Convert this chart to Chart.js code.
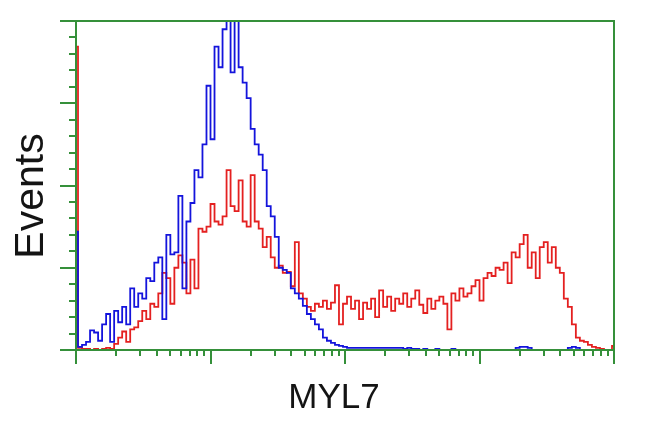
<!DOCTYPE html>
<html>
<head>
<meta charset="utf-8">
<script src="https://cdn.jsdelivr.net/npm/chart.js@4/dist/chart.umd.min.js"></script>
<style>
  html, body { margin: 0; padding: 0; background: #fff; }
</style>
</head>
<body>
<canvas id="chart" width="650" height="432"></canvas>
<script>
// Histogram: 135 log-spaced channels from 10^0 to 10^4
const channelCount = 135;
const xMin = 1;
const xMax = 10000;

// counts per channel
const blueCounts = [
  115, 3, 5, 8, 19, 17, 9, 25, 35, 8,
  38, 27, 42, 25, 60, 42, 55, 50, 70, 67,
  85, 90, 30, 112, 93, 95, 150, 60, 125, 143,
  175, 168, 200, 257, 205, 295, 275, 312, 330, 270,
  330, 275, 260, 245, 215, 200, 190, 175, 140, 130,
  110, 80, 78, 75, 60, 55, 50, 43, 35, 30,
  25, 20, 12, 9, 7, 5, 4, 3, 2, 2,
  2, 2, 2, 2, 2, 2, 2, 2, 2, 2,
  2, 2, 1, 2, 1, 1, 0, 1, 0, 0,
  1, 0, 0, 0, 1, 0, 0, 0, 0, 0,
  0, 0, 0, 0, 0, 0, 0, 0, 0, 0,
  2, 3, 3, 2, 0, 0, 0, 0, 0, 0,
  0, 0, 0, 2, 3, 2, 0, 0, 0, 0,
  0, 0, 0, 0, 0
];

const redCounts = [
  295, 2, 1, 1, 0, 1, 0, 1, 2, 1,
  6, 12, 18, 8, 20, 22, 28, 38, 30, 45,
  42, 55, 75, 70, 45, 80, 92, 85, 55, 88,
  60, 118, 115, 120, 142, 125, 122, 130, 175, 140,
  135, 165, 125, 120, 170, 125, 118, 100, 110, 90,
  80, 82, 75, 76, 62, 105, 55, 50, 42, 38,
  45, 42, 48, 40, 46, 63, 25, 45, 52, 40,
  48, 30, 46, 40, 50, 32, 58, 42, 52, 38,
  50, 45, 55, 42, 50, 58, 44, 36, 50, 40,
  48, 52, 45, 20, 55, 48, 60, 52, 55, 62,
  68, 48, 70, 75, 72, 80, 78, 85, 65, 95,
  90, 103, 112, 80, 95, 70, 100, 105, 85, 100,
  80, 75, 50, 42, 25, 12, 9, 8, 5, 3,
  2, 1, 0, 0, 4
];

const yMax = 320;
const yMajorTicks = [0, 80, 160, 240, 320];
const yMinorStep = 16;
const xMajorTicks = [1, 10, 100, 1000, 10000];

const axisGreen = "#35903a";

function toPoints(counts) {
    return counts.map((c, i) => ({ x: Math.pow(10, 4 * i / (channelCount - 1)), y: c }));
}

// frame, tick marks and axis titles
const framePlugin = {
    id: "frame",
    afterDatasetsDraw(chart) {
        const { ctx, chartArea: a, scales: { x, y } } = chart;
        ctx.save();
        ctx.strokeStyle = axisGreen;
        ctx.lineWidth = 2;

        // y ticks
        for (let v = 0; v <= yMax; v += yMinorStep) {
            const py = Math.round(y.getPixelForValue(v));
            const len = yMajorTicks.includes(v) ? 16 : 7;
            ctx.beginPath();
            ctx.moveTo(a.left - len, py);
            ctx.lineTo(a.left, py);
            ctx.stroke();
        }

        // x ticks (log decades)
        for (let d = 1; d < xMax; d *= 10) {
            for (let m = 1; m <= 9; m++) {
                const px = Math.round(x.getPixelForValue(m * d));
                const len = xMajorTicks.includes(m * d) ? 14 : 6;
                ctx.beginPath();
                ctx.moveTo(px, a.bottom);
                ctx.lineTo(px, a.bottom + len);
                ctx.stroke();
            }
        }
        const pxEnd = Math.round(x.getPixelForValue(xMax));
        ctx.beginPath();
        ctx.moveTo(pxEnd, a.bottom);
        ctx.lineTo(pxEnd, a.bottom + 14);
        ctx.stroke();

        ctx.strokeRect(a.left, a.top, a.right - a.left, a.bottom - a.top);
        ctx.restore();

        // axis titles
        ctx.save();
        ctx.fillStyle = "#141414";
        ctx.textAlign = "center";
        ctx.font = "35px 'Liberation Sans', Arial, sans-serif";
        ctx.fillText("MYL7", 334, 408);
        ctx.translate(43, 196);
        ctx.rotate(-Math.PI / 2);
        ctx.font = "41px 'Liberation Sans', Arial, sans-serif";
        ctx.fillText("Events", 0, 0);
        ctx.restore();
    }
};

new Chart(document.getElementById("chart"), {
    type: "line",
    data: {
        datasets: [
            {
                label: "blue",
                data: toPoints(blueCounts),
                borderColor: "#1414dc",
                borderWidth: 1.8,
                pointRadius: 0,
                stepped: "middle",
                fill: false,
            },
            {
                label: "red",
                data: toPoints(redCounts),
                borderColor: "#e42020",
                borderWidth: 1.8,
                pointRadius: 0,
                stepped: "middle",
                fill: false,
            },
        ],
    },
    options: {
        responsive: false,
        animation: false,
        layout: { padding: { left: 76, top: 21, right: 36, bottom: 82 } },
        plugins: {
            legend: { display: false },
            tooltip: { enabled: false },
        },
        scales: {
            x: { type: "logarithmic", min: xMin, max: xMax, display: false },
            y: { type: "linear", min: 0, max: yMax, display: false },
        },
    },
    plugins: [framePlugin],
});
</script>
</body>
</html>
